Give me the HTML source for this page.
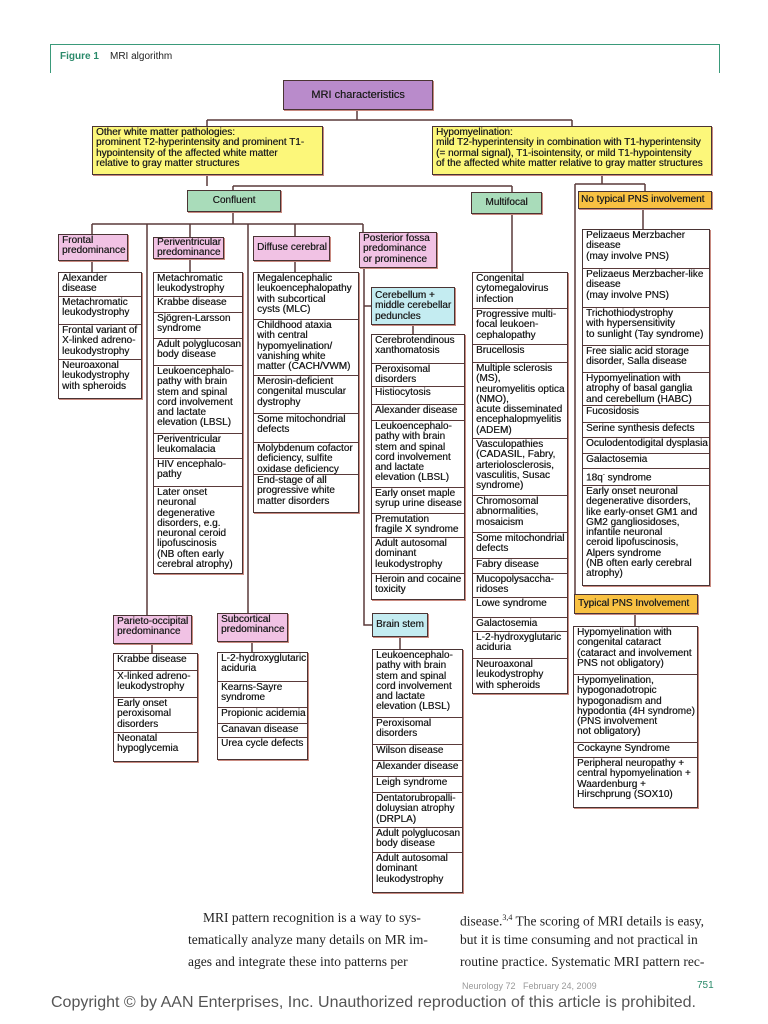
<!DOCTYPE html>
<html><head><meta charset="utf-8"><style>
body{margin:0;background:#fff;}
#p{position:relative;width:768px;height:1024px;overflow:hidden;font-family:"Liberation Sans",sans-serif;color:#1a1a1a;}
.b{position:absolute;box-sizing:border-box;border:1.5px solid #4a3434;font-size:10px;line-height:10.3px;padding:1px 3px;white-space:nowrap;overflow:hidden;box-shadow:1px 1px 0 #c98a80;text-shadow:0.3px 0 0 #333;}
.l{position:absolute;box-sizing:border-box;border:1.5px solid #4a3434;background:#fff;box-shadow:1px 1px 0 #c98a80;text-shadow:0.3px 0 0 #333;}
.l div{box-sizing:border-box;border-bottom:1.5px solid #5a3a3a;font-size:10px;line-height:10.3px;padding:1px 3px;white-space:nowrap;overflow:hidden;}
.l div:last-child{border-bottom:none;}
.pk{background:#f1c2e4;}
.cy{background:#c4ecf1;}
.gr{background:#a9dcba;}
.ye{background:#fcf77a;}
.or{background:#f8c142;}
.serif{position:absolute;font-family:"Liberation Serif",serif;font-size:13.5px;color:#222;white-space:nowrap;line-height:22px;}
</style></head><body><div id="p">
<div style="position:absolute;left:50px;top:44px;width:668px;height:28px;border-top:1.5px solid #3a9a7a;border-left:1.5px solid #3a9a7a;border-right:1.5px solid #3a9a7a;"></div>
<div style="position:absolute;left:60px;top:51px;font-size:10px;color:#2a8a6a;font-weight:bold;">Figure 1</div>
<div style="position:absolute;left:110px;top:51px;font-size:10px;color:#222;">MRI algorithm</div>

<svg width="768" height="1024" style="position:absolute;left:0;top:0" fill="none" stroke="#5a3a3a" stroke-width="1.5">
<path d="M357 110V120M207 120H572M207 120V126M572 120V126"/>
<path d="M207 175V186M233 186H512M233 186V190M512 186V192"/>
<path d="M602 175V184M575 184H645M645 184V191M575 184V594"/>
<path d="M233 212V224M92 224H363M92 224V234M147 224V615M248 224V613M190 224V237M295 224V236M363 224V232"/>
<path d="M364 268V625H372M364 306H371"/>
<path d="M92 261V272M190 259V272M295 261V272M413 325V334M512 214V272M643 209V229M635 614V626M400 637V649M152 644V653M252 642V652"/>
</svg>

<div class="b" style="left:283px;top:80px;width:150px;height:30px;background:#b98bcb;font-size:11px;text-align:center;line-height:26px;">MRI characteristics</div>
<div class="b ye" style="left:92px;top:126px;width:231px;height:49px;">Other white matter pathologies:<br>prominent T2-hyperintensity and prominent T1-<br>hypointensity of the affected white matter<br>relative to gray matter structures</div>
<div class="b ye" style="left:432px;top:126px;width:280px;height:49px;">Hypomyelination:<br>mild T2-hyperintensity in combination with T1-hyperintensity<br>(= normal signal), T1-isointensity, or mild T1-hypointensity<br>of the affected white matter relative to gray matter structures</div>
<div class="b gr" style="left:187px;top:190px;width:94px;height:22px;text-align:center;line-height:17px;">Confluent</div>
<div class="b gr" style="left:471px;top:192px;width:71px;height:22px;text-align:center;line-height:17px;">Multifocal</div>
<div class="b or" style="left:578px;top:191px;width:134px;height:18px;line-height:13px;padding:1px 2px;">No typical PNS involvement</div>

<div class="b pk" style="left:58px;top:234px;width:70px;height:27px;">Frontal<br>predominance</div>
<div class="b pk" style="left:153px;top:237px;width:71px;height:22px;padding-top:0">Periventricular<br>predominance</div>
<div class="b pk" style="left:253px;top:236px;width:77px;height:25px;line-height:20px;">Diffuse cerebral</div>
<div class="b pk" style="left:359px;top:232px;width:78px;height:36px;">Posterior fossa<br>predominance<br>or prominence</div>
<div class="b cy" style="left:371px;top:287px;width:84px;height:38px;padding-top:3px">Cerebellum +<br>middle cerebellar<br>peduncles</div>

<div class="l" style="left:58px;top:272px;width:84px;">
<div style="height:24px">Alexander<br>disease</div>
<div style="height:28px">Metachromatic<br>leukodystrophy</div>
<div style="height:35px">Frontal variant of<br>X-linked adreno-<br>leukodystrophy</div>
<div style="height:38px">Neuroaxonal<br>leukodystrophy<br>with spheroids</div>
</div>

<div class="l" style="left:153px;top:272px;width:90px;">
<div style="height:24px">Metachromatic<br>leukodystrophy</div>
<div style="height:16px">Krabbe disease</div>
<div style="height:26px">Sjögren-Larsson<br>syndrome</div>
<div style="height:27px">Adult polyglucosan<br>body disease</div>
<div style="height:68px">Leukoencephalo-<br>pathy with brain<br>stem and spinal<br>cord involvement<br>and lactate<br>elevation (LBSL)</div>
<div style="height:25px">Periventricular<br>leukomalacia</div>
<div style="height:28px">HIV encephalo-<br>pathy</div>
<div style="height:86px">Later onset<br>neuronal<br>degenerative<br>disorders, e.g.<br>neuronal ceroid<br>lipofuscinosis<br>(NB often early<br>cerebral atrophy)</div>
</div>

<div class="l" style="left:253px;top:272px;width:106px;">
<div style="height:47px">Megalencephalic<br>leukoencephalopathy<br>with subcortical<br>cysts (MLC)</div>
<div style="height:56px">Childhood ataxia<br>with central<br>hypomyelination/<br>vanishing white<br>matter (CACH/VWM)</div>
<div style="height:38px">Merosin-deficient<br>congenital muscular<br>dystrophy</div>
<div style="height:29px">Some mitochondrial<br>defects</div>
<div style="height:32px">Molybdenum cofactor<br>deficiency, sulfite<br>oxidase deficiency</div>
<div style="height:37px">End-stage of all<br>progressive white<br>matter disorders</div>
</div>

<div class="l" style="left:371px;top:334px;width:94px;">
<div style="height:29px">Cerebrotendinous<br>xanthomatosis</div>
<div style="height:23px">Peroxisomal<br>disorders</div>
<div style="height:18px">Histiocytosis</div>
<div style="height:16px">Alexander disease</div>
<div style="height:67px">Leukoencephalo-<br>pathy with brain<br>stem and spinal<br>cord involvement<br>and lactate<br>elevation (LBSL)</div>
<div style="height:26px">Early onset maple<br>syrup urine disease</div>
<div style="height:24px">Premutation<br>fragile X syndrome</div>
<div style="height:36px">Adult autosomal<br>dominant<br>leukodystrophy</div>
<div style="height:25px">Heroin and cocaine<br>toxicity</div>
</div>

<div class="l" style="left:472px;top:272px;width:96px;">
<div style="height:36px">Congenital<br>cytomegalovirus<br>infection</div>
<div style="height:36px">Progressive multi-<br>focal leukoen-<br>cephalopathy</div>
<div style="height:18px">Brucellosis</div>
<div style="height:76px">Multiple sclerosis<br>(MS),<br>neuromyelitis optica<br>(NMO),<br>acute disseminated<br>encephalopmyelitis<br>(ADEM)</div>
<div style="height:57px">Vasculopathies<br>(CADASIL, Fabry,<br>arteriolosclerosis,<br>vasculitis, Susac<br>syndrome)</div>
<div style="height:37px">Chromosomal<br>abnormalities,<br>mosaicism</div>
<div style="height:26px">Some mitochondrial<br>defects</div>
<div style="height:15px">Fabry disease</div>
<div style="height:24px">Mucopolysaccha-<br>ridoses</div>
<div style="height:20px">Lowe syndrome</div>
<div style="height:14px">Galactosemia</div>
<div style="height:27px">L-2-hydroxyglutaric<br>aciduria</div>
<div style="height:34px">Neuroaxonal<br>leukodystrophy<br>with spheroids</div>
</div>

<div class="l" style="left:582px;top:229px;width:128px;">
<div style="height:39px">Pelizaeus Merzbacher<br>disease<br>(may involve PNS)</div>
<div style="height:39px">Pelizaeus Merzbacher-like<br>disease<br>(may involve PNS)</div>
<div style="height:38px">Trichothiodystrophy<br>with hypersensitivity<br>to sunlight (Tay syndrome)</div>
<div style="height:27px">Free sialic acid storage<br>disorder, Salla disease</div>
<div style="height:33px">Hypomyelination with<br>atrophy of basal ganglia<br>and cerebellum (HABC)</div>
<div style="height:17px">Fucosidosis</div>
<div style="height:15px">Serine synthesis defects</div>
<div style="height:16px">Oculodentodigital dysplasia</div>
<div style="height:15px">Galactosemia</div>
<div style="height:17px">18q<sup style="font-size:6px">-</sup> syndrome</div>
<div style="height:99px">Early onset neuronal<br>degenerative disorders,<br>like early-onset GM1 and<br>GM2 gangliosidoses,<br>infantile neuronal<br>ceroid lipofuscinosis,<br>Alpers syndrome<br>(NB often early cerebral<br>atrophy)</div>
</div>

<div class="b or" style="left:574px;top:594px;width:124px;height:20px;line-height:15px;">Typical PNS Involvement</div>
<div class="l" style="left:573px;top:626px;width:125px;">
<div style="height:48px">Hypomyelination with<br>congenital cataract<br>(cataract and involvement<br>PNS not obligatory)</div>
<div style="height:68px">Hypomyelination,<br>hypogonadotropic<br>hypogonadism and<br>hypodontia (4H syndrome)<br>(PNS involvement<br>not obligatory)</div>
<div style="height:15px">Cockayne Syndrome</div>
<div style="height:49px">Peripheral neuropathy +<br>central hypomyelination +<br>Waardenburg +<br>Hirschprung (SOX10)</div>
</div>

<div class="b cy" style="left:372px;top:613px;width:56px;height:24px;line-height:19px;">Brain stem</div>
<div class="l" style="left:372px;top:649px;width:91px;">
<div style="height:68px">Leukoencephalo-<br>pathy with brain<br>stem and spinal<br>cord involvement<br>and lactate<br>elevation (LBSL)</div>
<div style="height:27px">Peroxisomal<br>disorders</div>
<div style="height:16px">Wilson disease</div>
<div style="height:16px">Alexander disease</div>
<div style="height:16px">Leigh syndrome</div>
<div style="height:35px">Dentatorubropalli-<br>doluysian atrophy<br>(DRPLA)</div>
<div style="height:25px">Adult polyglucosan<br>body disease</div>
<div style="height:39px">Adult autosomal<br>dominant<br>leukodystrophy</div>
</div>

<div class="b pk" style="left:113px;top:615px;width:79px;height:29px;">Parieto-occipital<br>predominance</div>
<div class="l" style="left:113px;top:653px;width:85px;">
<div style="height:17px">Krabbe disease</div>
<div style="height:27px">X-linked adreno-<br>leukodystrophy</div>
<div style="height:35px">Early onset<br>peroxisomal<br>disorders</div>
<div style="height:28px">Neonatal<br>hypoglycemia</div>
</div>

<div class="b pk" style="left:217px;top:613px;width:71px;height:29px;">Subcortical<br>predominance</div>
<div class="l" style="left:217px;top:652px;width:91px;">
<div style="height:29px">L-2-hydroxyglutaric<br>aciduria</div>
<div style="height:26px">Kearns-Sayre<br>syndrome</div>
<div style="height:16px">Propionic acidemia</div>
<div style="height:14px">Canavan disease</div>
<div style="height:21px">Urea cycle defects</div>
</div>

<div class="serif" style="left:203px;top:907px;">MRI pattern recognition is a way to sys-</div>
<div class="serif" style="left:188px;top:929px;">tematically analyze many details on MR im-</div>
<div class="serif" style="left:188px;top:951px;">ages and integrate these into patterns per</div>
<div class="serif" style="left:460px;top:907px;">disease.<sup style="font-size:8px">3,4</sup> The scoring of MRI details is easy,</div>
<div class="serif" style="left:460px;top:929px;">but it is time consuming and not practical in</div>
<div class="serif" style="left:460px;top:951px;">routine practice. Systematic MRI pattern rec-</div>
<div style="position:absolute;left:462px;top:981px;font-size:9px;color:#999;">Neurology 72&nbsp;&nbsp; February 24, 2009</div>
<div style="position:absolute;left:697px;top:980px;font-size:10px;color:#2a8a6a;">751</div>
<div style="position:absolute;left:51px;top:994px;font-size:16px;color:#555;white-space:nowrap;">Copyright © by AAN Enterprises, Inc. Unauthorized reproduction of this article is prohibited.</div>
</div></body></html>
